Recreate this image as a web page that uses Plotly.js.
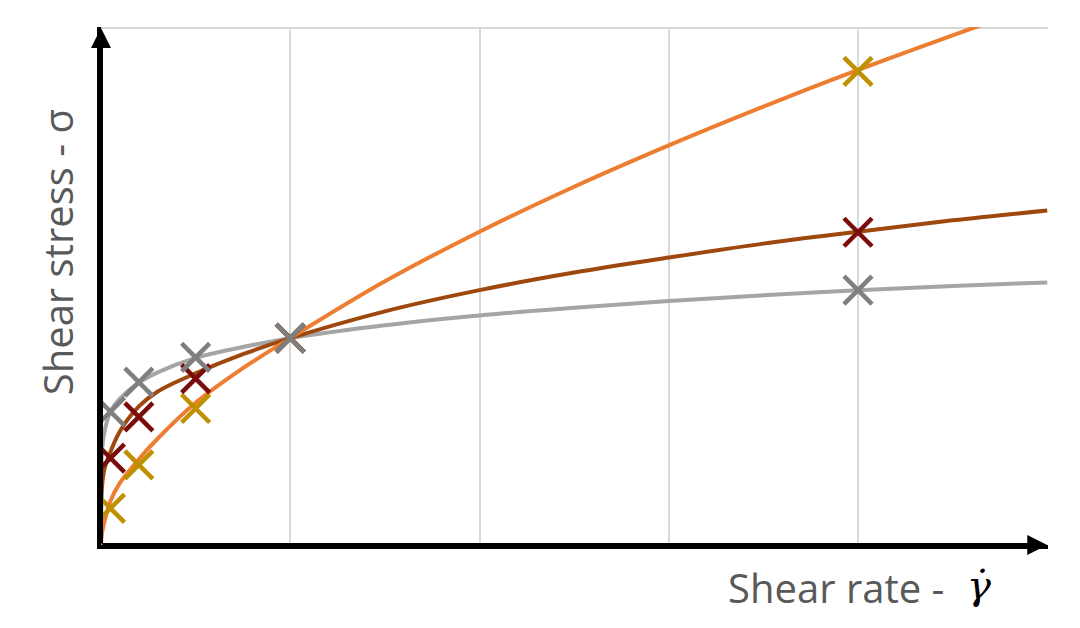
<!DOCTYPE html>
<html>
<head>
<meta charset="utf-8">
<script src="https://cdn.plot.ly/plotly-3.0.1.min.js"></script>
<style>html,body{margin:0;padding:0;background:#fff;}#chart{width:1080px;height:628px;}</style>
</head>
<body>
<div id="chart"></div>
<script>
// Curve samples (shear rate -> shear stress)
const lineRate   = [0, 0.001, 0.005, 0.01, 0.02, 0.05, 0.1, 0.2, 0.3, 0.5, 0.75, 1, 1.5, 2, 2.5, 3, 3.5, 4, 4.5, 5];
const orangeLine = [0, 0.08, 0.22, 0.32, 0.48, 0.85, 1.2, 1.66, 2.06, 2.75, 3.42, 4.0, 5.1, 6.06, 6.93, 7.73, 8.48, 9.19, 9.86, 10.51];
const brownLine  = [0, 0.7, 1.1, 1.3, 1.5, 1.8, 2.2, 2.68, 2.97, 3.32, 3.69, 4.0, 4.52, 4.93, 5.27, 5.56, 5.83, 6.06, 6.28, 6.47];
const grayLine   = [null, 1.42, 1.81, 2.0, 2.22, 2.58, 2.83, 3.14, 3.34, 3.62, 3.83, 4.0, 4.25, 4.44, 4.59, 4.72, 4.83, 4.93, 5.01, 5.08];

// Measured points
const markerRate    = [0.05, 0.2, 0.5, 1, 4];
const orangeMarkers = [0.71, 1.55, 2.64, 4.0, 9.16];
const brownMarkers  = [1.68, 2.48, 3.22, 4.0, 6.05];
const grayMarkers   = [2.58, 3.15, 3.63, 4.0, 4.93];

const gridTicksX = [1, 2, 3, 4, 5];
const gridTicksY = [10];
const xLabel = 'Shear rate -';
const xSymbol = 'γ̇';
const yLabel = 'Shear stress - σ';

function lineTrace(y, color) {
  return {x: lineRate, y: y, mode: 'lines', type: 'scatter', hoverinfo: 'skip',
          line: {color: color, width: 4, shape: 'spline', smoothing: 1}, connectgaps: false};
}
function markerTrace(y, color) {
  return {x: markerRate, y: y, mode: 'markers', type: 'scatter',
          marker: {symbol: 'x-thin', size: 28, color: color, line: {color: color, width: 4.5}}};
}

const data = [
  lineTrace(grayLine, '#A5A5A5'),
  lineTrace(brownLine, '#9E480E'),
  lineTrace(orangeLine, '#ED7D31'),
  markerTrace(orangeMarkers, '#BF9000'),
  markerTrace(brownMarkers, '#7B0C0C'),
  markerTrace(grayMarkers, '#7F7F7F')
];

const layout = {
  width: 1080, height: 628,
  margin: {l: 101, r: 32, t: 27, b: 83},
  paper_bgcolor: '#ffffff', plot_bgcolor: '#ffffff',
  showlegend: false,
  font: {family: '"Open Sans", sans-serif', color: '#595959'},
  xaxis: {range: [0, 5.004], tickvals: gridTicksX, showticklabels: false, ticks: '',
          showgrid: true, gridcolor: '#D9D9D9', gridwidth: 2, zeroline: false,
          showline: true, linecolor: '#000', linewidth: 4, fixedrange: true},
  yaxis: {range: [0, 10.02], tickvals: gridTicksY, showticklabels: false, ticks: '',
          showgrid: true, gridcolor: '#D9D9D9', gridwidth: 2, zeroline: false,
          showline: true, linecolor: '#000', linewidth: 4, fixedrange: true},
  annotations: [
    {xref: 'x', yref: 'y', x: 5, y: 0, axref: 'x', ayref: 'y', ax: 0, ay: 0, text: '',
     showarrow: true, arrowhead: 2, arrowsize: 1, arrowwidth: 4, arrowcolor: '#000', standoff: 0, startstandoff: 0},
    {xref: 'x', yref: 'y', x: 0, y: 10, axref: 'x', ayref: 'y', ax: 0, ay: 0, text: '',
     showarrow: true, arrowhead: 2, arrowsize: 1, arrowwidth: 4, arrowcolor: '#000', standoff: 0, startstandoff: 0},
    {xref: 'paper', yref: 'paper', x: 0.6596, y: -0.083, xanchor: 'left', yanchor: 'middle',
     text: xLabel, showarrow: false, font: {family: '"Open Sans", sans-serif', size: 40, color: '#595959'}},
    {xref: 'paper', yref: 'paper', x: 0.927, y: -0.077, xanchor: 'center', yanchor: 'middle',
     text: '<i>' + xSymbol + '</i>', showarrow: false, font: {family: '"DejaVu Serif", serif', size: 40, color: '#000'}},
    {xref: 'paper', yref: 'paper', x: -0.0465, y: 0.565, xanchor: 'center', yanchor: 'middle', textangle: -90,
     text: yLabel, showarrow: false, font: {family: '"Open Sans", sans-serif', size: 40, color: '#595959'}}
  ]
};

Plotly.newPlot('chart', data, layout, {displayModeBar: false, staticPlot: true});
</script>
</body>
</html>
